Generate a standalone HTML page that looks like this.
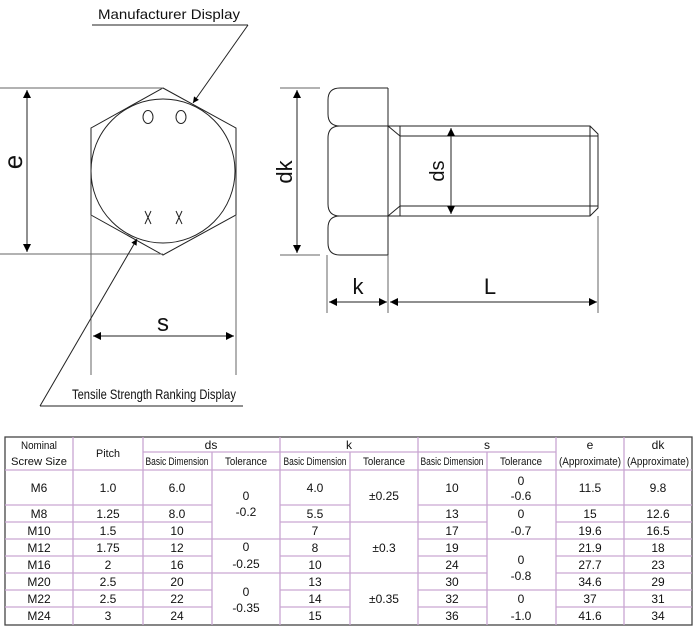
<!DOCTYPE html>
<html><head><meta charset="utf-8"><style>
body{margin:0;background:#fff;width:700px;height:634px;overflow:hidden}
svg{display:block}
text{font-family:"Liberation Sans",sans-serif;fill:#111}
</style></head><body>
<svg width="700" height="634" viewBox="0 0 700 634">
<defs>
<marker id="a" viewBox="0 0 10 10" refX="10" refY="5" markerWidth="13" markerHeight="8" orient="auto-start-reverse" markerUnits="userSpaceOnUse"><path d="M0,0L10,5L0,10z" fill="#000"/></marker>
<marker id="s" viewBox="0 0 10 10" refX="10" refY="5" markerWidth="8" markerHeight="6" orient="auto" markerUnits="userSpaceOnUse"><path d="M0,0L10,5L0,10z" fill="#000"/></marker>
</defs>
<g stroke="#222" stroke-width="1" fill="none">
<polygon points="163,88 236,128 236,215 163,255 91,215 91,128"/>
<circle cx="163" cy="171" r="72"/>
<ellipse cx="148" cy="117" rx="5" ry="6.5"/>
<ellipse cx="181" cy="117" rx="5" ry="6.5"/>
<path d="M145,211L151,224M151,211L145,224M176,211L182,224M182,211L176,224"/>
<path d="M0,88H163M0,254H163" stroke="#666"/>
<line x1="27" y1="90" x2="27" y2="252" marker-start="url(#a)" marker-end="url(#a)"/>
<path d="M91,215V375M236,215V375" stroke="#666"/>
<line x1="93" y1="336" x2="234" y2="336" marker-start="url(#a)" marker-end="url(#a)"/>
<path d="M92,25H248"/>
<line x1="248" y1="25" x2="193" y2="103" marker-end="url(#s)"/>
<path d="M40,406H243"/>
<line x1="40" y1="406" x2="137" y2="239" marker-end="url(#s)"/>
<path d="M280,88H320M280,255H320" stroke="#666"/>
<line x1="297" y1="90" x2="297" y2="253" marker-start="url(#a)" marker-end="url(#a)"/>
<path d="M388,88H340Q328,88 328,100V114Q328,126 340,126H388"/>
<path d="M388,126H340Q328,126 328,138V204Q328,216 340,216H388"/>
<path d="M388,216H340Q328,216 328,228V243Q328,255 340,255H388V88"/>
<path d="M388,126L400,136M388,216L400,206M400,126V216"/>
<path d="M388,126H590L598,134V208L590,216H388M400,136H598M400,206H598M590,126V216"/>
<line x1="451" y1="128" x2="451" y2="214" marker-start="url(#a)" marker-end="url(#a)"/>
<path d="M327,255V313M388,255V313M598,216V313" stroke="#666"/>
<line x1="329" y1="302" x2="387" y2="302" marker-start="url(#a)" marker-end="url(#a)"/>
<line x1="390" y1="302" x2="597" y2="302" marker-start="url(#a)" marker-end="url(#a)"/>
</g>
<text x="98" y="19" font-size="14" textLength="142" lengthAdjust="spacingAndGlyphs">Manufacturer Display</text>
<text x="72" y="399" font-size="14" textLength="164" lengthAdjust="spacingAndGlyphs">Tensile Strength Ranking Display</text>
<text x="163" y="331" font-size="24" text-anchor="middle">s</text>
<text x="358" y="294" font-size="22" text-anchor="middle">k</text>
<text x="490" y="294" font-size="22" text-anchor="middle">L</text>
<text transform="translate(22,162) rotate(-90)" font-size="26" text-anchor="middle">e</text>
<text transform="translate(292,172) rotate(-90)" font-size="22" text-anchor="middle">dk</text>
<text transform="translate(444,171) rotate(-90)" font-size="20" text-anchor="middle">ds</text>
<g stroke="#c9a6d2" stroke-width="1.3" fill="none">
<rect x="5" y="437" width="687" height="188" stroke="#444"/>
<path d="M73,437V625M143,437V625M280,437V625M418,437V625M556,437V625M624,437V625"/>
<path d="M212,452V625M350,452V625M487,452V625"/>
<path d="M143,452H556M5,470H692"/>
<path d="M5,505H212M5,522H212M5,539H212M5,556H212M5,573H212M5,590H212M5,607H212"/>
<path d="M212,539H280M212,573H280"/>
<path d="M280,505H350M280,522H350M280,539H350M280,556H350M280,573H350M280,590H350M280,607H350"/>
<path d="M350,522H418M350,573H418"/>
<path d="M418,505H487M418,522H487M418,539H487M418,556H487M418,573H487M418,590H487M418,607H487"/>
<path d="M487,505H556M487,539H556M487,590H556"/>
<path d="M556,505H692M556,522H692M556,539H692M556,556H692M556,573H692M556,590H692M556,607H692"/>
</g>
<g font-size="11" text-anchor="middle" lengthAdjust="spacingAndGlyphs">
<text x="39" y="449" textLength="36" lengthAdjust="spacingAndGlyphs">Nominal</text><text x="39" y="465" textLength="56" lengthAdjust="spacingAndGlyphs">Screw Size</text>
<text x="108" y="457" textLength="24" lengthAdjust="spacingAndGlyphs">Pitch</text>
<text x="177" y="465" textLength="63" lengthAdjust="spacingAndGlyphs">Basic Dimension</text><text x="246" y="465" textLength="42" lengthAdjust="spacingAndGlyphs">Tolerance</text>
<text x="315" y="465" textLength="63" lengthAdjust="spacingAndGlyphs">Basic Dimension</text><text x="384" y="465" textLength="42" lengthAdjust="spacingAndGlyphs">Tolerance</text>
<text x="452" y="465" textLength="63" lengthAdjust="spacingAndGlyphs">Basic Dimension</text><text x="521" y="465" textLength="42" lengthAdjust="spacingAndGlyphs">Tolerance</text>
<text x="590" y="465" textLength="62" lengthAdjust="spacingAndGlyphs">(Approximate)</text><text x="658" y="465" textLength="62" lengthAdjust="spacingAndGlyphs">(Approximate)</text>
</g>
<g font-size="12" text-anchor="middle">
<text x="211" y="449">ds</text><text x="349" y="449">k</text><text x="487" y="449">s</text>
<text x="590" y="449">e</text><text x="658" y="449">dk</text>
<text x="39" y="492">M6</text><text x="108" y="492">1.0</text><text x="177" y="492">6.0</text><text x="315" y="492">4.0</text><text x="452" y="492">10</text><text x="590" y="492">11.5</text><text x="658" y="492">9.8</text>
<text x="246" y="500">0</text><text x="246" y="516">-0.2</text>
<text x="384" y="500">±0.25</text>
<text x="521" y="485">0</text><text x="521" y="500">-0.6</text>
<text x="246" y="551">0</text><text x="246" y="568">-0.25</text>
<text x="246" y="596">0</text><text x="246" y="612">-0.35</text>
<text x="384" y="552">±0.3</text><text x="384" y="603">±0.35</text>
<text x="521" y="518">0</text><text x="521" y="535">-0.7</text>
<text x="521" y="564">0</text><text x="521" y="580">-0.8</text>
<text x="521" y="603">0</text><text x="521" y="620">-1.0</text>
<text x="39" y="518">M8</text><text x="108" y="518">1.25</text><text x="177" y="518">8.0</text><text x="315" y="518">5.5</text><text x="452" y="518">13</text><text x="590" y="518">15</text><text x="658" y="518">12.6</text>
<text x="39" y="535">M10</text><text x="108" y="535">1.5</text><text x="177" y="535">10</text><text x="315" y="535">7</text><text x="452" y="535">17</text><text x="590" y="535">19.6</text><text x="658" y="535">16.5</text>
<text x="39" y="552">M12</text><text x="108" y="552">1.75</text><text x="177" y="552">12</text><text x="315" y="552">8</text><text x="452" y="552">19</text><text x="590" y="552">21.9</text><text x="658" y="552">18</text>
<text x="39" y="569">M16</text><text x="108" y="569">2</text><text x="177" y="569">16</text><text x="315" y="569">10</text><text x="452" y="569">24</text><text x="590" y="569">27.7</text><text x="658" y="569">23</text>
<text x="39" y="586">M20</text><text x="108" y="586">2.5</text><text x="177" y="586">20</text><text x="315" y="586">13</text><text x="452" y="586">30</text><text x="590" y="586">34.6</text><text x="658" y="586">29</text>
<text x="39" y="603">M22</text><text x="108" y="603">2.5</text><text x="177" y="603">22</text><text x="315" y="603">14</text><text x="452" y="603">32</text><text x="590" y="603">37</text><text x="658" y="603">31</text>
<text x="39" y="620">M24</text><text x="108" y="620">3</text><text x="177" y="620">24</text><text x="315" y="620">15</text><text x="452" y="620">36</text><text x="590" y="620">41.6</text><text x="658" y="620">34</text>
</g>
</svg>
</body></html>
